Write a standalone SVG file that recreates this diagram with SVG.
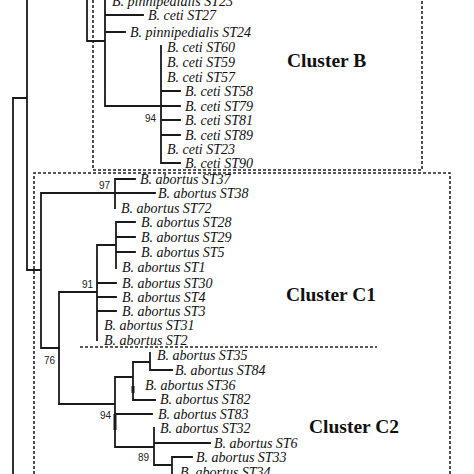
<svg xmlns="http://www.w3.org/2000/svg" width="474" height="474" viewBox="0 0 474 474">
<style>
.t{font-family:"Liberation Serif","Times New Roman",serif;font-style:italic;font-size:14px;fill:#111}
.c{font-family:"Liberation Serif","Times New Roman",serif;font-weight:bold;font-size:19.5px;fill:#111}
.b{font-family:"Liberation Sans",Arial,sans-serif;font-size:10px;fill:#222}
.l{stroke:#1a1a1a;stroke-width:1.8;fill:none;stroke-linecap:square}
.k{stroke:#1a1a1a;stroke-width:3;fill:none}
.d{stroke:#222;stroke-width:1.6;fill:none;stroke-dasharray:3,2}
</style>
<rect width="474" height="474" fill="#fff"/>
<g id="boxes">
<polyline class="d" points="93,0 93,170 422,170 422,0"/>
<polyline class="d" points="34,474 34,173 450,173 450,474"/>
<line class="d" x1="80" y1="347" x2="377" y2="347"/>
</g>
<g id="connectors">
<path class="l" d="M13,474V98H27 M27,0V270H41 M41,193V348H59 M41,193H155"/>
<path class="l" d="M87,0V41H105 M105,0V106H161 M105,15H143 M105,32H125 M161,46V163 M161,91H180 M161,106H180 M161,120H180 M161,135H180 M161,163H180"/>
<path class="l" d="M115,179V208 M115,179H135"/>
<path class="l" d="M59,292V404 M59,292H97 M97,245V340 M97,245H116 M116,222V268 M116,222H135 M116,237H135 M116,252H135 M97,283H116 M97,297H116 M97,311H116"/>
<path class="l" d="M59,404H115 M115,377V447 M115,377H133 M133,362V400 M133,362H150 M150,353V370 M150,370H172 M133,400H155 M115,414H152 M115,447H154 M154,428V465 M154,443H210 M154,465H172 M172,457V474 M172,457H192"/>
<path class="k" d="M133,386V393 M115,414V430"/>
</g>
<g id="bootstrap">
<text class="b" x="145" y="122">94</text>
<text class="b" x="99" y="189">97</text>
<text class="b" x="82" y="288">91</text>
<text class="b" x="44" y="364">76</text>
<text class="b" x="100" y="419">94</text>
<text class="b" x="138" y="461">89</text>
</g>
<g id="clusters">
<text class="c" x="287" y="67">Cluster B</text>
<text class="c" x="286" y="301">Cluster C1</text>
<text class="c" x="309" y="433">Cluster C2</text>
</g>
<g id="n-ST23p"><text class="t" x="112" y="6">B. pinnipedialis ST23</text></g>
<g id="n-ST27"><text class="t" x="148" y="20">B. ceti ST27</text></g>
<g id="n-ST24"><text class="t" x="130" y="37">B. pinnipedialis ST24</text></g>
<g id="n-ST60"><text class="t" x="167" y="52">B. ceti ST60</text></g>
<g id="n-ST59"><text class="t" x="167" y="67">B. ceti ST59</text></g>
<g id="n-ST57"><text class="t" x="167" y="82">B. ceti ST57</text></g>
<g id="n-ST58"><text class="t" x="185" y="96">B. ceti ST58</text></g>
<g id="n-ST79"><text class="t" x="185" y="111">B. ceti ST79</text></g>
<g id="n-ST81"><text class="t" x="185" y="125">B. ceti ST81</text></g>
<g id="n-ST89"><text class="t" x="185" y="140">B. ceti ST89</text></g>
<g id="n-ST23c"><text class="t" x="167" y="154">B. ceti ST23</text></g>
<g id="n-ST90"><text class="t" x="185" y="168">B. ceti ST90</text></g>
<g id="n-ST37"><text class="t" x="140" y="184">B. abortus ST37</text></g>
<g id="n-ST38"><text class="t" x="158" y="198">B. abortus ST38</text></g>
<g id="n-ST72"><text class="t" x="121" y="213">B. abortus ST72</text></g>
<g id="n-ST28"><text class="t" x="141" y="227">B. abortus ST28</text></g>
<g id="n-ST29"><text class="t" x="141" y="242">B. abortus ST29</text></g>
<g id="n-ST5"><text class="t" x="141" y="257">B. abortus ST5</text></g>
<g id="n-ST1"><text class="t" x="122" y="272">B. abortus ST1</text></g>
<g id="n-ST30"><text class="t" x="122" y="288">B. abortus ST30</text></g>
<g id="n-ST4"><text class="t" x="122" y="302">B. abortus ST4</text></g>
<g id="n-ST3"><text class="t" x="122" y="316">B. abortus ST3</text></g>
<g id="n-ST31"><text class="t" x="104" y="330">B. abortus ST31</text></g>
<g id="n-ST2"><text class="t" x="104" y="345">B. abortus ST2</text></g>
<g id="n-ST35"><text class="t" x="157" y="360">B. abortus ST35</text></g>
<g id="n-ST84"><text class="t" x="175" y="375">B. abortus ST84</text></g>
<g id="n-ST36"><text class="t" x="145" y="390">B. abortus ST36</text></g>
<g id="n-ST82"><text class="t" x="160" y="404">B. abortus ST82</text></g>
<g id="n-ST83"><text class="t" x="158" y="419">B. abortus ST83</text></g>
<g id="n-ST32"><text class="t" x="160" y="433">B. abortus ST32</text></g>
<g id="n-ST6"><text class="t" x="214" y="448">B. abortus ST6</text></g>
<g id="n-ST33"><text class="t" x="196" y="462">B. abortus ST33</text></g>
<g id="n-ST34"><text class="t" x="180" y="477">B. abortus ST34</text></g>
</svg>
